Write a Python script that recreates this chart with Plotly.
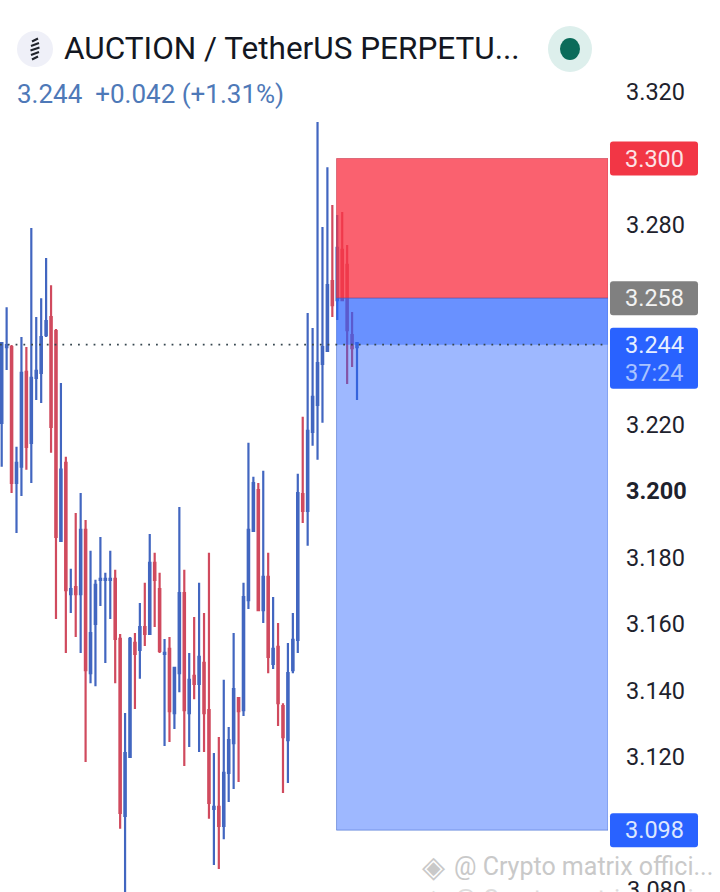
import plotly.graph_objects as go

opens = [3.2205, 3.2433, 3.2433, 3.2024, 3.2073, 3.2358, 3.2145, 3.2340, 3.2355, 3.2469,
         3.2523, 3.2481, 3.1850, 3.2085, 3.1690, 3.1711, 3.1690, 3.1883, 3.1452, 3.1600,
         3.1733, 3.1733, 3.1733, 3.1736, 3.1555, 3.1023, 3.1200, 3.1543, 3.1522, 3.1591,
         3.1570, 3.1784, 3.1705, 3.1510, 3.1525, 3.1332, 3.1452, 3.1693, 3.1332, 3.1444,
         3.1420, 3.1483, 3.1341, 3.1044, 3.1050, 3.0993, 3.1152, 3.1242, 3.1377, 3.1341,
         3.1672, 3.1880, 3.2003, 3.1642, 3.1742, 3.1480, 3.1531, 3.1353, 3.1251, 3.1461,
         3.1552, 3.1991, 3.1940, 3.2178, 3.2259, 3.2382, 3.2421, 3.2631, 3.2574, 3.2725,
         3.2680, 3.2469, 3.2433]
highs = [3.2445, 3.2553, 3.2439, 3.2133, 3.2463, 3.2433, 3.2791, 3.2523, 3.2580, 3.2701,
         3.2619, 3.2487, 3.2325, 3.2103, 3.1766, 3.1934, 3.1994, 3.1913, 3.1820, 3.1733,
         3.1862, 3.1754, 3.1820, 3.1763, 3.1570, 3.1332, 3.1561, 3.1573, 3.1663, 3.1724,
         3.1871, 3.1814, 3.1754, 3.1555, 3.1561, 3.1471, 3.1952, 3.1763, 3.1513, 3.1621,
         3.1724, 3.1633, 3.1814, 3.1212, 3.1260, 3.1432, 3.1290, 3.1573, 3.1380, 3.1724,
         3.2145, 3.2043, 3.2024, 3.2061, 3.1814, 3.1681, 3.1603, 3.1362, 3.1543, 3.1633,
         3.2052, 3.2223, 3.2535, 3.2490, 3.3110, 3.2794, 3.2974, 3.2860, 3.2830, 3.2839,
         3.2740, 3.2538, 3.2445]
lows = [3.2073, 3.2364, 3.1994, 3.1874, 3.1985, 3.2064, 3.2024, 3.2274, 3.2265, 3.2463,
        3.2115, 3.1615, 3.1850, 3.1513, 3.1633, 3.1561, 3.1513, 3.1185, 3.1422, 3.1413,
        3.1654, 3.1483, 3.1615, 3.1422, 3.0984, 3.0770, 3.1200, 3.1344, 3.1435, 3.1534,
        3.1570, 3.1591, 3.1513, 3.1233, 3.1245, 3.1284, 3.1395, 3.1173, 3.1230, 3.1374,
        3.1215, 3.1215, 3.1014, 3.0875, 3.0863, 3.0953, 3.1065, 3.1104, 3.1125, 3.1323,
        3.1645, 3.1880, 3.1642, 3.1603, 3.1452, 3.1465, 3.1293, 3.1092, 3.1122, 3.1452,
        3.1513, 3.1904, 3.1835, 3.2136, 3.2094, 3.2205, 3.2421, 3.2523, 3.2514, 3.2574,
        3.2322, 3.2373, 3.2274]
closes = [3.2445, 3.2439, 3.2024, 3.2085, 3.2355, 3.2133, 3.2340, 3.2361, 3.2463, 3.2511,
          3.2193, 3.1862, 3.2064, 3.1702, 3.1705, 3.1690, 3.1883, 3.1461, 3.1573, 3.1718,
          3.1736, 3.1736, 3.1736, 3.1555, 3.1032, 3.1212, 3.1555, 3.1510, 3.1591, 3.1570,
          3.1784, 3.1733, 3.1519, 3.1513, 3.1338, 3.1468, 3.1693, 3.1341, 3.1432, 3.1420,
          3.1501, 3.1332, 3.1062, 3.1050, 3.0993, 3.1152, 3.1251, 3.1404, 3.1338, 3.1681,
          3.1883, 3.2024, 3.1642, 3.1742, 3.1501, 3.1525, 3.1362, 3.1260, 3.1452, 3.1552,
          3.1994, 3.1940, 3.2181, 3.2283, 3.2385, 3.2433, 3.2619, 3.2559, 3.2731, 3.2574,
          3.2484, 3.2430, 3.2445]

tick_vals = [3.32, 3.28, 3.22, 3.20, 3.18, 3.16, 3.14, 3.12]
tick_text = ["3.320", "3.280", "3.220", "<b>3.200</b>", "3.180", "3.160", "3.140", "3.120"]
edge_tick = 3.08

stop_price = 3.300
entry_price = 3.258
last_price = 3.244
target_price = 3.098
position_start = 67.85
countdown = "37:24"

title_text = "AUCTION / TetherUS PERPETU..."
quote_text = "3.244  +0.042 (+1.31%)"
watermark = "@ Crypto matrix offici..."

BLUE = "#4266C0"
RED = "#D04A5E"
FONT = "Roboto"
TAG_SIZE = 23.5
PLOT_W = 608
X_RANGE = [-0.344, 122.86]
Y_RANGE = [3.0794, 3.34767]


def px(x):
    return x / PLOT_W


def py(y):
    return 1 - y / 892


def tag_shape(price, color, up=17, down=17):
    # rounded price tag, sized in pixels and anchored on its price
    r, w = 3, 88
    path = (f"M 0 {up - r} Q 0 {up} {r} {up} L {w - r} {up} Q {w} {up} {w} {up - r} "
            f"L {w} {-down + r} Q {w} {-down} {w - r} {-down} L {r} {-down} Q 0 {-down} 0 {-down + r} Z")
    return dict(type="path", xref="paper", yref="y", xsizemode="pixel", ysizemode="pixel",
                xanchor=px(610), yanchor=price, path=path, fillcolor=color, line_width=0, layer="above")


def circle(x, y, rx, ry, color):
    return dict(type="circle", xref="paper", yref="paper", x0=px(x - rx), x1=px(x + rx),
                y0=py(y + ry), y1=py(y - ry), fillcolor=color, line_width=0, layer="above")


def text(x, y, s, size, color, xanchor="left", yref="paper", **kw):
    return dict(x=px(x), y=py(y) if yref == "paper" else y, xref="paper", yref=yref, text=s, showarrow=False,
                xanchor=xanchor, yanchor="middle", font=dict(family=kw.pop("family", FONT), size=size, color=color), **kw)


fig = go.Figure(go.Candlestick(
    x=list(range(len(opens))), open=opens, high=highs, low=lows, close=closes,
    increasing=dict(line=dict(color=BLUE, width=2.2), fillcolor=BLUE),
    decreasing=dict(line=dict(color=RED, width=2.2), fillcolor=RED),
    whiskerwidth=0, hoverinfo="skip",
))

shapes = [
    dict(type="rect", x0=position_start, x1=X_RANGE[1], y0=entry_price, y1=stop_price, layer="above",
         fillcolor="rgba(249,52,70,0.78)", line=dict(color="rgba(200,60,80,0.6)", width=1)),
    dict(type="rect", x0=position_start, x1=X_RANGE[1], y0=target_price, y1=entry_price, layer="above",
         fillcolor="rgba(41,98,255,0.45)", line=dict(color="rgba(60,100,200,0.5)", width=1)),
    dict(type="rect", x0=position_start, x1=X_RANGE[1], y0=last_price, y1=entry_price, layer="above",
         fillcolor="rgba(41,98,255,0.45)", line_width=0),
    dict(type="line", x0=X_RANGE[0], x1=X_RANGE[1], y0=last_price, y1=last_price, layer="above",
         line=dict(color="#37474F", width=1.8, dash="1.8px,6px")),
    tag_shape(stop_price, "#F23645"),
    tag_shape(entry_price, "#808080"),
    tag_shape(last_price, "#2962FF", up=17, down=44),
    tag_shape(target_price, "#2962FF"),
    circle(35, 49, 18, 18, "#EFF0F8"),
    circle(570, 49, 22, 23, "#DDEFEC"),
    circle(570, 49, 10, 11, "#0B6B5A"),
]

# zigzag strokes of the coin icon
for stroke_y, half in [(40, 3), (44.5, 4), (49, 4.5), (53.5, 4), (58, 3)]:
    shapes.append(dict(type="line", xref="paper", yref="paper", x0=px(35 - half), x1=px(35 + half),
                       y0=py(stroke_y + 1.5), y1=py(stroke_y - 1.5), line=dict(color="#20232B", width=2), layer="above"))

annotations = [
    text(62, 49, title_text, 31.5, "#131722"),
    text(15, 94, quote_text, 26, "#4E79B8"),
    text(654, stop_price, "3.300", TAG_SIZE, "#FCE3E5", xanchor="center", yref="y"),
    text(654, entry_price, "3.258", TAG_SIZE, "#F2F2F2", xanchor="center", yref="y"),
    text(654, last_price, "3.244", TAG_SIZE, "#E6EEFF", xanchor="center", yref="y"),
    text(654, 373, countdown, TAG_SIZE, "#A9C3FF", xanchor="center"),
    text(654, target_price, "3.098", TAG_SIZE, "#DCE7FF", xanchor="center", yref="y"),
    text(433, 866, "◈", 30, "#C9C9C9", xanchor="center", family="DejaVu Sans"),
    text(452, 866, watermark, 25, "#C9C9C9"),
    text(433, 899, "◈", 30, "#DDDDDD", xanchor="center", family="DejaVu Sans"),
    text(452, 899, watermark, 25, "#DDDDDD"),
    text(625, edge_tick, "3.080", TAG_SIZE, "#1E222D", yref="y"),
]

fig.update_layout(
    width=720, height=892,
    margin=dict(l=0, r=720 - PLOT_W, t=0, b=0),
    paper_bgcolor="white", plot_bgcolor="white",
    showlegend=False, dragmode=False, boxgap=0.6,
    shapes=shapes, annotations=annotations,
    xaxis=dict(range=X_RANGE, visible=False, rangeslider_visible=False, fixedrange=True),
    yaxis=dict(range=Y_RANGE, side="right", showgrid=False, zeroline=False, showline=False, ticks="",
               tickmode="array", tickvals=tick_vals, ticktext=tick_text, ticklabelstandoff=17,
               tickfont=dict(family=FONT, size=TAG_SIZE, color="#1E222D"), fixedrange=True),
)

fig.write_html("out.html", config={"displayModeBar": False},
               post_script="document.body.style.margin='0';document.body.style.overflow='hidden';")
